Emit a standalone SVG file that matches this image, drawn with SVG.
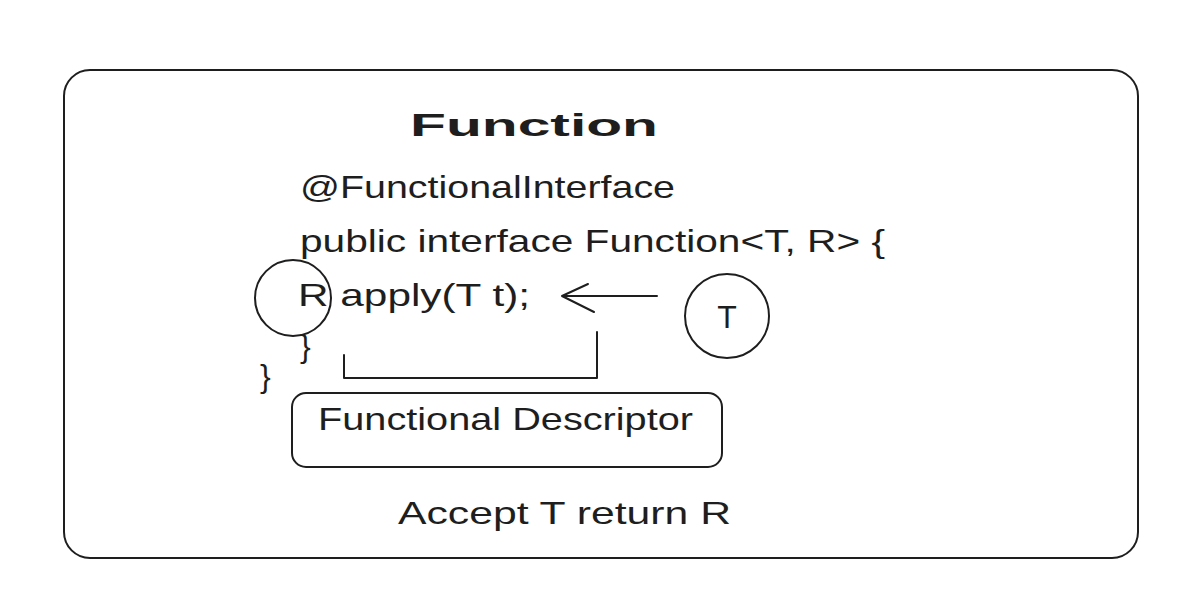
<svg xmlns="http://www.w3.org/2000/svg" width="1200" height="591" viewBox="0 0 1200 591">
<style>
.t{font-family:"Liberation Sans",Arial,sans-serif;font-size:32px;fill:#1e1e1e}
.s{fill:none;stroke:#1e1e1e;stroke-width:2;stroke-linecap:round;stroke-linejoin:round}
</style>
<rect width="1200" height="591" fill="#fff"/>
<g id="frame"><rect class="s" x="64" y="70" width="1074" height="488" rx="26"/></g>
<g id="title"><text class="t" x="410" y="136" font-size="50" font-weight="bold" textLength="248" lengthAdjust="spacingAndGlyphs">Function</text></g>
<g id="code">
<text class="t" x="300" y="198" textLength="375" lengthAdjust="spacingAndGlyphs">@FunctionalInterface</text>
<text class="t" x="300" y="252" textLength="585" lengthAdjust="spacingAndGlyphs">public interface Function&lt;T, R&gt; {</text>
<text class="t" x="298" y="306" textLength="232" lengthAdjust="spacingAndGlyphs">R apply(T t);</text>
<text class="t" x="300" y="357">}</text>
<text class="t" x="260" y="387">}</text>
</g>
<g id="circleR"><circle class="s" cx="293" cy="298" r="38"/></g>
<g id="circleT"><circle class="s" cx="727" cy="316" r="42"/><text class="t" x="727" y="328" text-anchor="middle">T</text></g>
<g id="descriptor"><rect class="s" x="292" y="393" width="430" height="74" rx="14"/>
<text class="t" x="318" y="430" textLength="375" lengthAdjust="spacingAndGlyphs">Functional Descriptor</text></g>
<g id="caption"><text class="t" x="398" y="524" textLength="333" lengthAdjust="spacingAndGlyphs">Accept T return R</text></g>
<g id="connectors">
<path class="s" d="M657 296 L562 296 M562 296 L588 284 M562 296 L594 312"/>
<path class="s" d="M344 355 L344 378 L597 378 L597 332"/>
</g>
</svg>
